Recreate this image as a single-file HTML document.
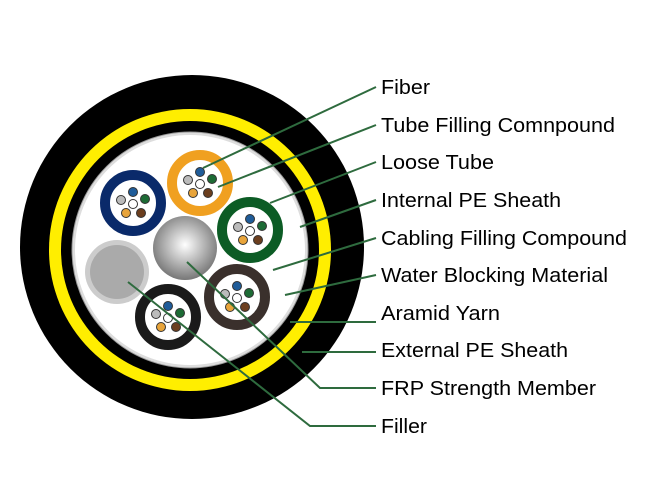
<!DOCTYPE html>
<html><head><style>body{margin:0;background:#fff}svg{display:block}</style></head><body>
<svg width="650" height="478" viewBox="0 0 650 478" xmlns="http://www.w3.org/2000/svg">
<defs>
<radialGradient id="frp" cx="0.5" cy="0.45" r="0.55"><stop offset="0" stop-color="#fff"/><stop offset="1" stop-color="#777"/></radialGradient>
<g id="fib">
<circle cx="0" cy="-11" r="4.5" fill="#1f5c99" stroke="#333" stroke-width="1"/>
<circle cx="-12" cy="-3" r="4.5" fill="#bbb" stroke="#333" stroke-width="1"/>
<circle cx="0" cy="1" r="4.5" fill="#fff" stroke="#333" stroke-width="1"/>
<circle cx="12" cy="-4" r="4.5" fill="#1d6b35" stroke="#333" stroke-width="1"/>
<circle cx="-7" cy="10" r="4.5" fill="#e8a43a" stroke="#333" stroke-width="1"/>
<circle cx="8" cy="10" r="4.5" fill="#6b3e1e" stroke="#333" stroke-width="1"/>
</g>
</defs>
<circle cx="192" cy="247" r="172" fill="#000"/>
<circle cx="190" cy="250" r="141" fill="#ffee00"/>
<circle cx="190" cy="250" r="129" fill="#000"/>
<circle cx="190" cy="250" r="118" fill="#ddd" stroke="#999" stroke-width="1"/>
<circle cx="190" cy="250" r="115" fill="#fff"/>
<circle cx="117" cy="272" r="32" fill="#ccc"/>
<circle cx="117" cy="272" r="27" fill="#aaa"/>
<circle cx="185" cy="248" r="32" fill="url(#frp)"/>
<circle cx="200" cy="183" r="28" fill="#fff" stroke="#f0a020" stroke-width="10"/><use href="#fib" x="200" y="183"/>
<circle cx="133" cy="203" r="28" fill="#fff" stroke="#0a2a6a" stroke-width="10"/><use href="#fib" x="133" y="203"/>
<circle cx="250" cy="230" r="28" fill="#fff" stroke="#0c5c25" stroke-width="10"/><use href="#fib" x="250" y="230"/>
<circle cx="237" cy="297" r="28" fill="#fff" stroke="#3a302c" stroke-width="10"/><use href="#fib" x="237" y="297"/>
<circle cx="168" cy="317" r="28" fill="#fff" stroke="#1a1a1a" stroke-width="10"/><use href="#fib" x="168" y="317"/>
<g stroke="#2e6b3e" stroke-width="2" fill="none">
<polyline points="203,168 376,87"/>
<polyline points="218,187 376,125"/>
<polyline points="270,203 376,162"/>
<polyline points="300,227 376,200"/>
<polyline points="273,270 376,238"/>
<polyline points="285,295 376,275"/>
<polyline points="290,322 376,322"/>
<polyline points="302,352 376,352"/>
<polyline points="187,262 320,388 376,388"/>
<polyline points="128,282 310,426 376,426"/>
</g>
<g font-family="Liberation Sans, sans-serif" font-size="20" fill="#000" lengthAdjust="spacingAndGlyphs">
<text x="381" y="94" textLength="49" lengthAdjust="spacingAndGlyphs">Fiber</text>
<text x="381" y="132" textLength="234" lengthAdjust="spacingAndGlyphs">Tube Filling Comnpound</text>
<text x="381" y="169" textLength="113" lengthAdjust="spacingAndGlyphs">Loose Tube</text>
<text x="381" y="207" textLength="180" lengthAdjust="spacingAndGlyphs">Internal PE Sheath</text>
<text x="381" y="245" textLength="246" lengthAdjust="spacingAndGlyphs">Cabling Filling Compound</text>
<text x="381" y="282" textLength="227" lengthAdjust="spacingAndGlyphs">Water Blocking Material</text>
<text x="381" y="320" textLength="119" lengthAdjust="spacingAndGlyphs">Aramid Yarn</text>
<text x="381" y="357" textLength="187" lengthAdjust="spacingAndGlyphs">External PE Sheath</text>
<text x="381" y="395" textLength="215" lengthAdjust="spacingAndGlyphs">FRP Strength Member</text>
<text x="381" y="433" textLength="46" lengthAdjust="spacingAndGlyphs">Filler</text>
</g>
</svg>
</body></html>
